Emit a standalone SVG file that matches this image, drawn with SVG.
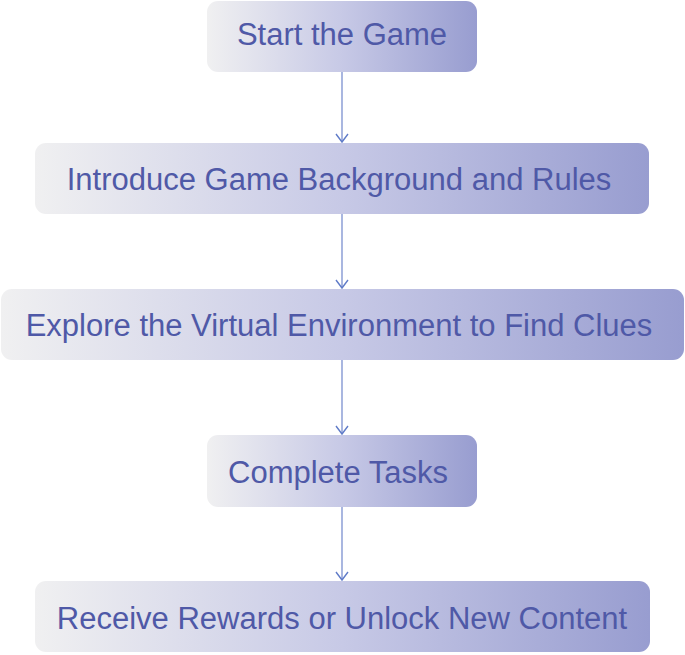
<svg xmlns="http://www.w3.org/2000/svg" width="685" height="655" viewBox="0 0 685 655">
<defs>
<linearGradient id="g" x1="0" y1="0" x2="1" y2="0">
<stop offset="0" stop-color="#f0f0f1"/>
<stop offset="0.5" stop-color="#c7c9e6"/>
<stop offset="1" stop-color="#989dd0"/>
</linearGradient>
<marker id="arr" viewBox="0 0 12 14" refX="10" refY="7" markerWidth="12" markerHeight="14" markerUnits="userSpaceOnUse" orient="auto">
<path d="M2,1 L10,7 L2,13" fill="none" stroke="#5f7bc8" stroke-width="1.4"/>
</marker>
</defs>
<style>
.box{fill:url(#g);}
.lbl{font-family:"Liberation Sans",Arial,sans-serif;font-size:31px;fill:#4f59a7;text-anchor:middle;}
.conn{stroke:#7b90d0;stroke-width:1.3;fill:none;marker-end:url(#arr);}
</style>
<g id="connectors">
<path class="conn" d="M342,72 V142"/>
<path class="conn" d="M342,214 V288"/>
<path class="conn" d="M342,360 V434"/>
<path class="conn" d="M342,507 V580"/>
</g>
<g id="n1">
<rect class="box" x="207" y="1" width="270" height="71" rx="11"/>
<text class="lbl" x="342" y="44.5">Start the Game</text>
</g>
<g id="n2">
<rect class="box" x="35" y="143" width="614" height="71" rx="11"/>
<text class="lbl" x="339" y="190">Introduce Game Background and Rules</text>
</g>
<g id="n3">
<rect class="box" x="1" y="289" width="683" height="71" rx="11"/>
<text class="lbl" x="339" y="335.5">Explore the Virtual Environment to Find Clues</text>
</g>
<g id="n4">
<rect class="box" x="207" y="435" width="270" height="72" rx="11"/>
<text class="lbl" x="338" y="482.5">Complete Tasks</text>
</g>
<g id="n5">
<rect class="box" x="35" y="581" width="615" height="71" rx="11"/>
<text class="lbl" x="342" y="629">Receive Rewards or Unlock New Content</text>
</g>
</svg>
